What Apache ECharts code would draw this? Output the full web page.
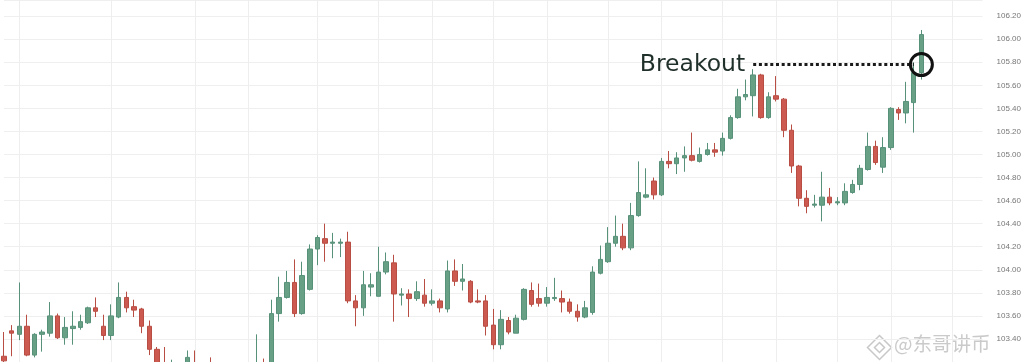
<!DOCTYPE html>
<html>
<head>
<meta charset="utf-8">
<script src="https://cdn.jsdelivr.net/npm/echarts@6/dist/echarts.min.js"></script>
<style>
html,body{margin:0;padding:0;background:#fff;}
#chart{width:1024px;height:362px;}
</style>
</head>
<body>
<div id="chart"></div>
<script>
// ---- data ----
const opens = [103.25,103.47,103.44,103.51,103.26,103.44,103.45,103.60,103.41,103.49,103.50,103.54,103.67,103.51,103.43,103.59,103.76,103.68,103.66,103.51,
103.31,103.15,103.10,103.12,103.12,103.18,103.10,103.15,103.08,103.12,103.06,103.10,103.04,103.08,103.14,103.12,103.62,103.76,103.89,103.62,
103.83,104.18,104.27,104.23,104.23,104.24,103.73,103.67,103.85,103.77,103.98,104.06,103.78,103.79,103.75,103.78,103.71,103.73,103.66,103.99,
103.90,103.90,103.73,103.73,103.52,103.35,103.56,103.45,103.57,103.82,103.75,103.71,103.75,103.75,103.72,103.64,103.59,103.63,103.97,104.07,
104.23,104.29,104.19,104.47,104.63,104.77,104.65,104.94,104.92,104.97,104.99,104.94,105.00,105.04,105.03,105.14,105.32,105.50,105.51,105.69,
105.32,105.51,105.48,105.21,104.90,104.62,104.56,104.56,104.63,104.58,104.58,104.67,104.74,104.87,105.07,104.89,105.06,105.39,105.36,105.45,
105.71];
const closes = [103.21,103.45,103.51,103.26,103.44,103.46,103.60,103.41,103.50,103.51,103.55,103.67,103.64,103.43,103.60,103.76,103.67,103.65,103.51,103.31,
103.15,103.08,103.15,103.16,103.24,103.12,103.05,103.10,103.12,103.06,103.10,103.04,103.08,103.14,103.12,103.62,103.76,103.89,103.62,103.95,
104.18,104.28,104.23,104.24,104.24,103.73,103.67,103.87,103.87,103.98,104.07,103.79,103.79,103.75,103.81,103.71,103.73,103.67,103.99,103.90,
103.92,103.72,103.72,103.51,103.35,103.57,103.46,103.58,103.83,103.70,103.71,103.76,103.76,103.72,103.64,103.59,103.67,103.98,104.09,104.23,
104.29,104.19,104.47,104.67,104.65,104.65,104.94,104.92,104.97,104.99,104.95,105.00,105.04,105.02,105.14,105.32,105.50,105.52,105.69,105.32,
105.50,105.48,105.21,104.90,104.62,104.55,104.57,104.63,104.58,104.59,104.68,104.74,104.88,105.07,104.93,105.06,105.40,105.36,105.46,105.71,
106.04];
const lows = [103.18,103.25,103.39,103.25,103.24,103.29,103.42,103.40,103.35,103.35,103.48,103.53,103.59,103.39,103.39,103.58,103.63,103.59,103.45,103.26,
103.10,103.02,103.05,103.05,103.08,103.06,103.00,103.02,103.00,102.98,103.00,102.98,102.98,103.02,103.05,103.10,103.55,103.75,103.59,103.61,
103.82,104.04,104.07,104.10,104.11,103.71,103.51,103.60,103.77,103.77,103.96,103.55,103.69,103.59,103.73,103.68,103.69,103.63,103.63,103.86,
103.82,103.71,103.71,103.43,103.31,103.31,103.44,103.45,103.56,103.68,103.68,103.68,103.73,103.63,103.62,103.55,103.58,103.61,103.96,104.06,
104.20,104.17,104.17,104.46,104.62,104.61,104.64,104.88,104.83,104.85,104.94,104.93,104.99,104.98,104.99,105.13,105.31,105.47,105.33,105.31,
105.31,105.46,105.15,104.84,104.55,104.49,104.54,104.42,104.56,104.56,104.56,104.66,104.69,104.86,104.91,104.84,105.04,105.30,105.27,105.19,
105.65];
const highs = [103.46,103.52,103.89,103.61,103.45,103.48,103.72,103.62,103.59,103.64,103.61,103.68,103.76,103.61,103.70,103.89,103.81,103.74,103.67,103.56,
103.33,103.33,103.22,103.19,103.30,103.30,103.18,103.24,103.17,103.16,103.15,103.14,103.16,103.44,103.23,103.74,103.94,103.99,104.09,104.07,
104.22,104.30,104.40,104.32,104.27,104.33,103.78,103.99,103.97,104.20,104.15,104.13,103.84,103.83,103.90,103.92,103.83,103.75,104.08,104.09,
104.05,103.91,103.83,103.78,103.66,103.65,103.59,103.61,103.84,103.89,103.88,103.85,103.93,103.82,103.75,103.70,103.73,104.03,104.21,104.37,
104.47,104.40,104.58,104.94,104.88,104.80,104.97,105.03,105.02,105.07,105.19,105.06,105.10,105.10,105.19,105.34,105.57,105.65,105.74,105.70,
105.54,105.68,105.49,105.26,104.91,104.69,104.65,104.85,104.71,104.63,104.75,104.78,104.91,105.19,105.12,105.15,105.41,105.41,105.63,105.80,
106.08];
// time slots (the last few are empty space on the right)
const categories = Array.from({length: 129}, (_, i) => 'T' + i);
// slots where the vertical grid lines fall
const gridSlots = [2,14,25,32,41,49,56,64,71,79,86,94,101,109,116,124];
// annotation
const breakoutLevel = 105.78;
const breakoutFrom = 98, breakoutTo = 119, breakoutCandle = 120;
const annotationText = 'Breakout';
const watermark = '@东哥讲币';

const candles = opens.map((o, i) => [o, closes[i], lows[i], highs[i]]);

const chart = echarts.init(document.getElementById('chart'), null, {renderer: 'canvas'});
chart.setOption({
  backgroundColor: '#ffffff',
  animation: false,
  grid: {left: 4, right: 41, top: 0, bottom: 0, containLabel: false},
  xAxis: {
    type: 'category',
    data: categories,
    boundaryGap: false,
    axisLine: {show: false},
    axisTick: {show: false},
    axisLabel: {show: false},
    splitLine: {
      show: true,
      interval: (idx) => gridSlots.indexOf(idx) >= 0,
      lineStyle: {color: '#eeeeee', width: 1}
    }
  },
  yAxis: {
    type: 'value',
    position: 'right',
    min: 103.2,
    max: 106.34,
    interval: 0.2,
    axisLine: {show: false},
    axisTick: {show: false},
    axisLabel: {
      show: true,
      margin: 14,
      fontSize: 8,
      fontFamily: 'Liberation Sans',
      color: '#777777',
      showMinLabel: false,
      showMaxLabel: false,
      formatter: (v) => v.toFixed(2)
    },
    splitLine: {show: true, lineStyle: {color: '#efefef', width: 1}}
  },
  series: [{
    type: 'candlestick',
    data: candles,
    clip: false,
    barWidth: 5,
    itemStyle: {
      color: '#67a084',
      color0: '#cc5a50',
      borderColor: '#57917a',
      borderColor0: '#b84d44',
      borderWidth: 1
    },
    markLine: {
      silent: true,
      symbol: ['none', 'none'],
      lineStyle: {color: '#1a1a1a', width: 3, type: [3, 2.7], cap: 'butt'},
      label: {
        show: true,
        position: 'start',
        distance: 8,
        formatter: annotationText,
        fontSize: 23.5,
        fontFamily: 'DejaVu Sans',
        color: '#1f2f29'
      },
      data: [[{coord: ['T' + breakoutFrom, breakoutLevel]}, {coord: ['T' + breakoutTo, breakoutLevel]}]]
    },
    markPoint: {
      silent: true,
      symbol: 'circle',
      symbolSize: 22,
      itemStyle: {color: 'rgba(0,0,0,0)', borderColor: '#111111', borderWidth: 3},
      label: {show: false},
      data: [{coord: ['T' + breakoutCandle, breakoutLevel]}]
    }
  }],
  graphic: [
    {
      type: 'group',
      left: 865, top: 333,
      silent: true,
      children: [
        {type: 'polygon', shape: {points: [[12,0],[24,12],[12,24],[0,12]]},
         style: {fill: 'none', stroke: '#c8c8c8', lineWidth: 1.5}},
        {type: 'polygon', shape: {points: [[12,7],[17,12],[12,17],[7,12]]},
         style: {fill: 'none', stroke: '#c8c8c8', lineWidth: 1.5}}
      ]
    },
    {
      type: 'text',
      left: 894, top: 334,
      silent: true,
      style: {
        text: watermark,
        font: '19.5px "Noto Sans CJK SC"',
        fill: '#c4c4c4',
        opacity: 0.9
      }
    }
  ]
});
</script>
</body>
</html>
